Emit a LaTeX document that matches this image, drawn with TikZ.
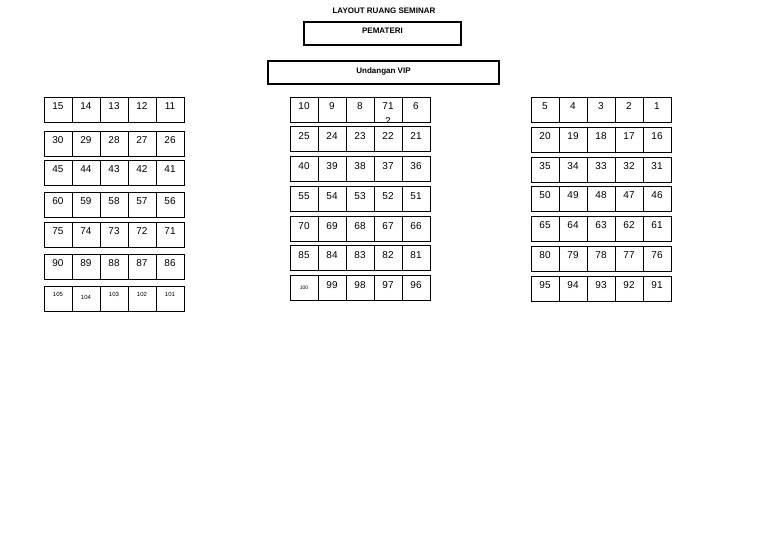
\documentclass[tikz,border=0pt]{standalone}
\usepackage{fontspec}
\setmainfont{Liberation Sans}
\begin{document}
\begin{tikzpicture}[x=1pt,y=-1pt,
  seat/.style={draw,line width=0.8pt,minimum width=28pt,minimum height=25pt,anchor=north west,inner sep=0pt,font=\fontsize{10}{11}\selectfont,text depth=0pt,align=center},
  head/.style={draw,line width=1.4pt,inner sep=0pt,font=\bfseries\fontsize{8}{9}\selectfont}]
\useasboundingbox (0,0) rectangle (768,543);
\node[font=\bfseries\fontsize{8}{9}\selectfont] (title) at (384,11) {LAYOUT RUANG SEMINAR};
\node[head,minimum width=157pt,minimum height=23pt] (pem) at (382.5,33.5) {};
\node[font=\bfseries\fontsize{8}{9}\selectfont] (pemt) at (382.5,31) {PEMATERI};
\node[head,minimum width=231pt,minimum height=23pt] (vip) at (383.5,72.5) {};
\node[font=\bfseries\fontsize{8}{9}\selectfont] (vipt) at (383.5,71) {Undangan VIP};
% left block
\foreach \y/\r in {97/1,131/2,160/3,192/4,222/5,254/6}{
  \foreach \c in {0,...,4}{
    \pgfmathtruncatemacro{\n}{15*\r-\c}
    \node[seat] (L\r-\c) at (44+28*\c,\y) {};
    \node[font=\fontsize{10}{11}\selectfont] (Lt\r-\c) at (58+28*\c,\y+9) {\n};
  }}
\foreach \c/\t/\dy in {0/105/8,1/104/11,2/103/8,3/102/8,4/101/8}{
  \node[seat] (L7-\c) at (44+28*\c,286) {};
  \node[font=\fontsize{6}{7}\selectfont] (Lt7-\c) at (58+28*\c,286+\dy) {\t};
}
% middle block
\foreach \y/\r in {126/2,156/3,186/4,216/5,245/6}{
  \foreach \c in {0,...,4}{
    \pgfmathtruncatemacro{\n}{15*\r-5-\c}
    \node[seat] (M\r-\c) at (290+28*\c,\y) {};
    \node[font=\fontsize{10}{11}\selectfont] (Mt\r-\c) at (304+28*\c,\y+10) {\n};
  }}
\foreach \c/\t in {0/10,1/9,2/8,4/6}{
  \node[seat] (M1-\c) at (290+28*\c,97) {};
  \node[font=\fontsize{10}{11}\selectfont] (Mt1-\c) at (304+28*\c,106) {\t};
}
\node[seat] (M1-3) at (374,97) {};
\node[font=\fontsize{10}{11}\selectfont] (Mt1-3) at (388,106) {71};
\begin{scope}
\clip (374,97) rectangle (402,122);
\node[font=\fontsize{10}{11}\selectfont] (Mt1-3b) at (388,121) {2};
\end{scope}
\foreach \c/\t in {1/99,2/98,3/97,4/96}{
  \node[seat] (M7-\c) at (290+28*\c,275) {};
  \node[font=\fontsize{10}{11}\selectfont] (Mt7-\c) at (304+28*\c,285) {\t};
}
\node[seat] (M7-0) at (290,275) {};
\node[font=\fontsize{5}{6}\selectfont] (Mt7-0) at (304,288) {100};
% right block
\foreach \y/\r in {97/1,127/2,157/3,186/4,216/5,246/6,276/7}{
  \foreach \c in {0,...,4}{
    \pgfmathtruncatemacro{\n}{15*\r-10-\c}
    \node[seat] (R\r-\c) at (531+28*\c,\y) {};
    \node[font=\fontsize{10}{11}\selectfont] (Rt\r-\c) at (545+28*\c,\y+9) {\n};
  }}
\end{tikzpicture}
\end{document}
